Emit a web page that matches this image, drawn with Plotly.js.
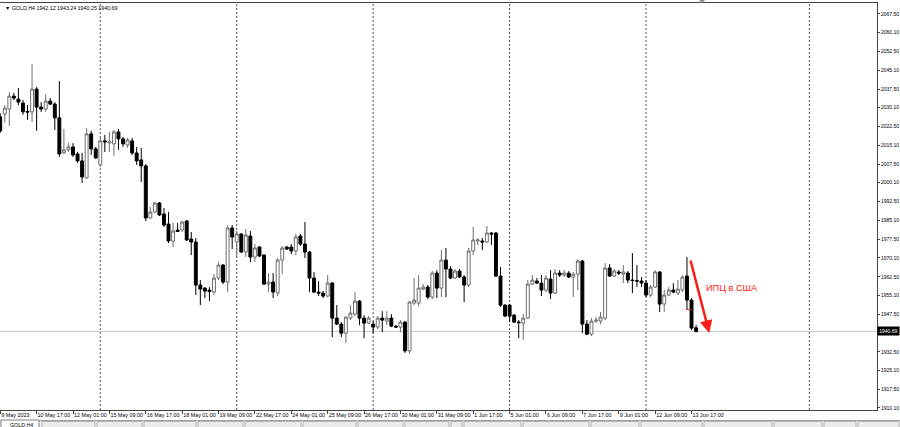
<!DOCTYPE html>
<html>
<head>
<meta charset="utf-8">
<script src="https://cdn.plot.ly/plotly-3.0.1.min.js"></script>
<style>
  html, body { margin: 0; padding: 0; background: #fff; }
  #chart { width: 900px; height: 427px; }
</style>
</head>
<body>
<div id="chart"></div>
<script>
// ---- Data (GOLD, H4, 9 May 2023 09:00 .. 13 Jun 2023 21:00) ----
const openP = [2026.4,2027.5,2029.5,2034.7,2033.5,2031.9,2028.6,2028.4,2037.5,2030.3,
2029.5,2032.7,2031.5,2026.0,2012.0,2013.2,2014.4,2011.6,2008.8,2002.0,
2019.6,2013.6,2007.2,2016.8,2016.0,2015.6,2020.4,2017.6,2015.2,2016.8,
2012.0,2009.2,2006.8,1986.0,1988.4,1992.0,1987.6,1983.6,1976.8,1981.2,
1981.2,1984.8,1977.6,1976.4,1959.2,1958.0,1957.2,1956.4,1962.0,1967.2,
1960.4,1982.0,1976.4,1979.6,1972.4,1978.8,1970.4,1974.4,1971.2,1959.6,
1960.4,1956.0,1969.2,1974.4,1974.4,1972.8,1978.8,1975.6,1972.4,1962.0,
1956.4,1956.0,1954.8,1960.0,1946.0,1943.6,1940.0,1946.0,1947.6,1952.8,
1946.0,1944.0,1943.6,1942.4,1946.0,1944.8,1946.0,1942.8,1942.4,1944.4,
1932.9,1952.0,1952.0,1957.6,1958.4,1954.4,1964.0,1958.0,1969.2,1965.6,
1962.0,1964.8,1962.4,1959.2,1972.8,1976.8,1976.8,1976.4,1980.0,1980.0,
1962.8,1951.2,1951.2,1947.2,1944.4,1944.0,1946.0,1959.6,1960.8,1960.0,
1957.2,1961.6,1956.0,1964.0,1963.2,1964.0,1962.4,1963.6,1968.8,1943.6,
1939.6,1944.8,1944.8,1946.0,1966.0,1962.8,1964.4,1963.6,1964.0,1961.2,
1961.0,1960.8,1960.0,1955.2,1958.4,1964.4,1951.6,1955.2,1957.2,1956.0,
1957.2,1962.8,1953.2,1942.12];
const highP = [2027.9,2031.1,2036.3,2036.0,2037.9,2033.1,2031.1,2047.5,2038.3,2032.3,
2035.5,2033.9,2032.3,2040.7,2021.6,2015.9,2015.9,2012.4,2012.0,2021.9,
2020.8,2014.4,2018.0,2019.2,2020.4,2021.2,2021.6,2018.4,2018.0,2018.0,
2014.4,2014.0,2007.6,1990.4,1992.4,1992.4,1990.0,1988.4,1984.0,1984.0,
1984.8,1985.2,1980.4,1978.0,1961.2,1958.4,1958.4,1963.6,1968.4,1967.6,
1983.2,1983.2,1980.8,1980.0,1981.6,1980.8,1975.6,1974.8,1971.6,1964.0,
1964.0,1970.0,1974.8,1974.8,1975.6,1979.6,1979.6,1984.4,1972.8,1964.4,
1960.8,1956.8,1963.2,1960.4,1951.2,1944.4,1946.8,1951.2,1956.4,1953.2,
1947.2,1946.8,1944.8,1946.8,1948.8,1948.8,1947.6,1943.2,1945.2,1944.8,
1952.8,1962.0,1963.2,1959.6,1959.2,1964.8,1965.2,1973.2,1974.0,1966.8,
1965.6,1965.6,1963.2,1974.0,1982.4,1978.0,1978.0,1982.8,1980.4,1980.4,
1966.4,1951.6,1951.6,1947.6,1945.2,1947.6,1961.2,1963.2,1962.0,1963.2,
1963.2,1965.2,1965.6,1965.2,1965.2,1964.8,1964.4,1969.6,1969.2,1945.2,
1946.0,1946.4,1948.4,1968.0,1967.6,1965.6,1965.2,1967.2,1964.8,1972.0,
1967.2,1962.4,1961.2,1959.2,1965.2,1964.8,1957.2,1958.4,1960.0,1961.2,
1963.2,1970.4,1954.0,1943.24];
const lowP = [2020.0,2024.0,2022.8,2033.1,2031.1,2027.2,2025.2,2024.4,2020.8,2028.4,
2028.4,2031.1,2021.2,2010.4,2011.6,2012.4,2010.4,2008.0,2000.0,2001.6,
2011.2,2009.6,2006.4,2012.4,2012.4,2010.8,2013.2,2014.4,2014.0,2011.2,
2007.2,2000.4,1984.8,1985.8,1988.0,1986.8,1982.4,1976.0,1974.4,1980.4,
1980.4,1976.8,1971.2,1955.2,1951.2,1954.0,1952.8,1955.2,1961.2,1959.6,
1956.4,1973.6,1970.4,1972.0,1970.4,1968.4,1968.4,1970.4,1959.2,1956.4,
1954.0,1954.8,1963.6,1973.2,1971.6,1971.2,1974.8,1970.0,1956.4,1956.0,
1954.8,1954.0,1954.4,1938.4,1943.2,1938.4,1936.0,1945.2,1946.8,1943.2,
1938.0,1943.6,1940.0,1941.6,1940.4,1943.2,1942.4,1942.2,1940.4,1932.1,
1931.7,1951.2,1950.8,1957.2,1953.6,1953.6,1954.0,1954.4,1954.4,1961.6,
1961.6,1962.0,1952.4,1958.4,1971.2,1975.2,1973.2,1976.0,1975.2,1962.4,
1950.4,1946.4,1944.4,1944.0,1938.0,1937.3,1945.6,1959.2,1959.6,1954.8,
1956.4,1953.6,1955.6,1962.4,1962.4,1962.0,1954.4,1957.2,1940.0,1939.2,
1938.8,1944.0,1943.6,1945.2,1962.4,1962.4,1963.2,1960.0,1960.0,1956.0,
1958.4,1958.4,1954.4,1954.4,1958.0,1948.4,1948.4,1954.8,1956.0,1955.2,
1956.4,1949.6,1941.2,1940.25];
const closeP = [2020.8,2029.9,2034.7,2033.9,2032.3,2028.4,2028.3,2037.5,2030.3,2029.5,
2032.7,2031.5,2026.0,2011.6,2013.2,2014.4,2011.2,2008.8,2002.4,2019.6,
2013.6,2010.0,2016.8,2016.4,2016.4,2020.4,2017.6,2015.6,2017.2,2012.0,
2008.8,2006.8,1986.0,1988.4,1992.0,1987.2,1983.2,1976.8,1980.8,1980.6,
1984.4,1977.2,1976.4,1959.2,1957.6,1956.8,1956.6,1962.0,1967.2,1960.4,
1982.0,1978.4,1979.6,1972.4,1979.2,1970.4,1974.0,1970.8,1959.6,1960.4,
1956.4,1969.2,1974.0,1973.6,1972.8,1978.4,1975.6,1972.4,1962.0,1956.4,
1956.0,1954.8,1960.0,1946.0,1943.6,1940.0,1946.4,1948.0,1952.8,1946.0,
1944.0,1946.0,1942.4,1946.0,1945.2,1946.0,1942.8,1942.4,1944.4,1932.9,
1952.4,1953.2,1958.0,1958.4,1954.4,1964.0,1958.0,1969.2,1965.6,1962.0,
1964.8,1962.4,1959.2,1972.8,1977.2,1977.2,1976.4,1980.0,1979.6,1962.8,
1951.2,1946.8,1946.8,1944.4,1944.2,1946.0,1959.6,1961.2,1960.0,1957.2,
1962.0,1956.0,1964.0,1963.2,1964.0,1962.4,1963.6,1968.8,1943.6,1939.6,
1944.8,1945.2,1946.4,1966.0,1962.8,1964.8,1964.0,1964.4,1961.2,1961.0,
1960.8,1960.0,1955.2,1958.4,1964.4,1951.6,1955.2,1957.2,1956.4,1957.6,
1962.4,1953.2,1942.0,1940.69];

// x-axis time labels (every 8th H4 bar)
const timeTickIdx = [0,8,16,24,32,40,48,56,64,72,80,88,96,104,112,120,128,136,144,152];
const timeTickText = ['9 May 2023','10 May 17:00','12 May 01:00','15 May 09:00','16 May 17:00',
  '18 May 01:00','19 May 09:00','22 May 17:00','24 May 01:00','25 May 09:00','26 May 17:00',
  '30 May 01:00','31 May 09:00','1 Jun 17:00','5 Jun 01:00','6 Jun 09:00','7 Jun 17:00',
  '9 Jun 01:00','12 Jun 09:00','13 Jun 17:00'];
// price scale labels
const priceTicks = [1910.10,1917.50,1925.10,1932.50,1947.50,1955.10,1962.50,1970.10,1977.50,
  1985.10,1992.50,2000.10,2007.50,2015.10,2022.50,2030.10,2037.50,2045.10,2052.50,2060.10,2067.50];
const priceTickText = priceTicks.map(v => v.toFixed(2));
// week separators (bar index of Monday 01:00)
const weekSeparators = [22, 52, 82, 112, 142, 177.9];
const bidPrice = 1940.69;
const headerText = '▼ GOLD,H4 1942.12 1943.24 1940.25 1940.69';
const noteText = 'ИПЦ в США';

const barIndex = openP.map((_, i) => i);

// ---- helpers for decoration in pixel space ----
const W = 900, H = 427, ML = 0, MR = 23, MT = 3, MB = 17;
const PW = W - ML - MR, PH = H - MT - MB;
const px = X => (X - ML) / PW;
const py = Y => (H - MB - Y) / PH;

const font = 'Liberation Sans, Arial, sans-serif';

const trace = {
  type: 'candlestick',
  x: barIndex, open: openP, high: highP, low: lowP, close: closeP,
  increasing: { line: { color: '#6e6e6e', width: 1 }, fillcolor: '#ffffff' },
  decreasing: { line: { color: '#000000', width: 1 }, fillcolor: '#000000' },
  whiskerwidth: 0,
  hoverinfo: 'skip'
};

const shapes = [];
weekSeparators.forEach(s => shapes.push({
  type: 'line', xref: 'x', yref: 'paper', x0: s, x1: s, y0: 0, y1: 1,
  line: { color: '#555', width: 1, dash: '2px,2px' }, layer: 'below'
}));
shapes.push({ type: 'line', xref: 'paper', yref: 'y', x0: 0, x1: 1, y0: bidPrice, y1: bidPrice,
  line: { color: '#c8c8c8', width: 1 }, layer: 'below' });
// small red marker near the CPI bar
shapes.push({ type: 'line', xref: 'paper', yref: 'paper', x0: px(686), x1: px(691), y0: py(309.5), y1: py(309.5),
  line: { color: '#ff2a2a', width: 1 } });
// chart shift marker at top
shapes.push({ type: 'path', xref: 'paper', yref: 'paper',
  path: `M ${px(699)} ${py(0)} L ${px(705)} ${py(0)} L ${px(702)} ${py(3)} Z`,
  fillcolor: '#909090', line: { width: 0 } });
// bottom tab bar
shapes.push({ type: 'rect', xref: 'paper', yref: 'paper', x0: px(0), x1: px(900), y0: py(420), y1: py(428),
  fillcolor: '#f0f0f0', line: { width: 0 } });
shapes.push({ type: 'line', xref: 'paper', yref: 'paper', x0: px(0), x1: px(900), y0: py(420.5), y1: py(420.5),
  line: { color: '#a0a0a0', width: 1 } });
const tabEdges = [41, 96, 143, 197, 244, 302, 357, 404, 450, 463, 522, 590, 640, 703, 773, 823, 857, 900];
for (let k = 0; k < tabEdges.length - 1; k++) {
  shapes.push({ type: 'rect', xref: 'paper', yref: 'paper', x0: px(tabEdges[k] + 1), x1: px(tabEdges[k + 1] - 1),
    y0: py(421.5), y1: py(428), fillcolor: '#ececec', line: { color: '#b4b4b4', width: 1 } });
}
shapes.push({ type: 'rect', xref: 'paper', yref: 'paper', x0: px(1), x1: px(39), y0: py(420), y1: py(428),
  fillcolor: '#ffffff', line: { color: '#808080', width: 1 } });

const annotations = [
  { xref: 'paper', yref: 'paper', x: 0, y: 1, xanchor: 'left', yanchor: 'top', xshift: 3, yshift: 0,
    text: headerText, showarrow: false, font: { family: font, size: 5.3, color: '#000' } },
  { xref: 'paper', yref: 'y', x: 1, y: bidPrice, xanchor: 'left', yanchor: 'middle', xshift: 0,
    text: bidPrice.toFixed(2), showarrow: false, bgcolor: '#000', borderpad: 1.2,
    font: { family: font, size: 5.0, color: '#fff' } },
  { xref: 'x', yref: 'y', axref: 'x', ayref: 'y', x: 155.9, y: 1940.1, ax: 151.7, ay: 1969.6,
    text: '', showarrow: true, arrowhead: 2, arrowsize: 1, arrowwidth: 2.5, arrowcolor: '#ff1a1a' },
  { xref: 'x', yref: 'y', x: 154.7, y: 1958.2, xanchor: 'left', yanchor: 'middle',
    text: noteText, showarrow: false, font: { family: font, size: 9.2, color: '#ff2020' } },
  { xref: 'paper', yref: 'paper', x: px(8), y: py(424.5), xanchor: 'left', yanchor: 'middle',
    text: 'GOLD,H4', showarrow: false, font: { family: font, size: 5.3, color: '#000' } }
];

const layout = {
  width: W, height: H,
  margin: { l: ML, r: MR, t: MT, b: MB, pad: 0 },
  paper_bgcolor: '#ffffff', plot_bgcolor: '#ffffff',
  showlegend: false,
  boxgap: 0.2, boxgroupgap: 0.2,
  xaxis: {
    range: [-0.05, -0.05 + PW / 4.548],
    tickmode: 'array', tickvals: timeTickIdx, ticktext: timeTickText, tickangle: 0,
    ticks: 'outside', ticklen: 3, tickcolor: '#444', tickwidth: 1,
    ticklabelposition: 'outside right',
    tickfont: { family: font, size: 5.4, color: '#000' },
    showgrid: false, zeroline: false,
    showline: true, linecolor: '#444', linewidth: 1, mirror: true,
    rangeslider: { visible: false }, fixedrange: true
  },
  yaxis: {
    side: 'right',
    range: [1909.29, 2071.89],
    tickmode: 'array', tickvals: priceTicks, ticktext: priceTickText,
    ticks: 'outside', ticklen: 2, tickcolor: '#444', tickwidth: 1,
    tickfont: { family: font, size: 5.0, color: '#000' },
    showgrid: false, zeroline: false,
    showline: true, linecolor: '#444', linewidth: 1, mirror: true,
    fixedrange: true
  },
  shapes: shapes,
  annotations: annotations
};

Plotly.newPlot('chart', [trace], layout, { displayModeBar: false, staticPlot: true });
</script>
</body>
</html>
